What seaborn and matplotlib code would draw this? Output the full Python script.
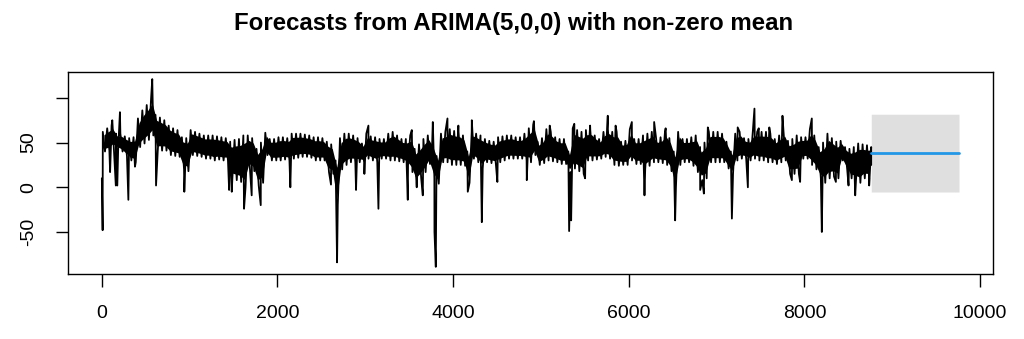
import matplotlib
matplotlib.use("Agg")
import matplotlib.pyplot as plt
import seaborn as sns
import numpy as np
import pandas as pd

# envelope of the observed series, read per 50-step bin (upper / lower edge of the band)
bin_hi = [62, 66, 69, 60, 60, 57, 55, 56, 77, 86, 92, 100, 81, 78, 75, 69, 66, 64, 56, 55,
          64, 62, 60, 58, 58, 58, 57, 56, 55, 51, 53, 54, 58, 58, 55, 43, 50, 61, 54, 54,
          56, 56, 55, 60, 60, 60, 59, 58, 56, 56, 55, 51, 48, 30, 55, 60, 60, 58, 55, 49,
          60, 57, 56, 54, 54, 60, 62, 58, 54, 54, 58, 43, 48, 54, 58, 50, 35, 60, 62, 65,
          63, 62, 58, 40, 62, 60, 58, 54, 52, 51, 56, 57, 58, 58, 56, 56, 60, 66, 70, 51,
          55, 65, 62, 56, 54, 54, 40, 66, 64, 62, 64, 64, 58, 54, 62, 65, 62, 62, 51, 52,
          65, 54, 54, 58, 60, 62, 54, 56, 62, 55, 40, 62, 54, 54, 56, 58, 45, 50, 62, 62,
          62, 60, 51, 40, 60, 62, 55, 54, 62, 62, 62, 62, 60, 54, 58, 62, 52, 54, 58, 56,
          56, 65, 58, 45, 50, 60, 55, 51, 52, 45, 43, 45, 49, 48, 47, 45]
bin_lo = [40, 41, 45, 43, 40, 35, 30, 28, 45, 49, 53, 58, 40, 41, 41, 36, 35, 34, 20, 18,
          36, 35, 34, 32, 32, 30, 31, 30, 30, 10, 8, 6, 0, 21, 18, 2, 5, 36, 30, 30,
          30, 31, 30, 32, 33, 34, 34, 33, 30, 30, 30, 17, 15, -20, 20, 25, 28, 28, 28, 28,
          32, 30, 28, 32, 32, 30, 30, 29, 28, 25, 17, 5, 10, 17, 26, 10, 4, 28, 28, 25,
          25, 25, 24, 5, 32, 28, 21, 28, 27, 26, 28, 30, 32, 32, 32, 32, 30, 28, 36, 25,
          27, 30, 29, 28, 26, 26, 17, 21, 18, 15, 30, 30, 31, 32, 34, 32, 25, 24, 25, 25,
          30, 26, 26, 20, 24, 28, 28, 27, 25, 18, 0, 25, 28, 28, 24, 17, 8, 10, 28, 28,
          28, 28, 21, 15, 30, 32, 32, 30, 32, 30, 30, 28, 28, 26, 28, 30, 15, 15, 15, 32,
          32, 25, 20, 10, 5, 10, 12, 10, 30, 20, 10, 8, 5, 10, 10, 25]

# isolated spikes (time index, value)
spike_t = [1, 10, 95, 120, 160, 177, 207, 303, 378, 575, 618, 940, 1450, 1480, 1620, 1707,
           1810, 2147, 2610, 2679, 2895, 2990, 3036, 3150, 3484, 3530, 3586, 3655, 3769,
           3788, 3803, 3936, 4060, 4167, 4213, 4327, 4504, 4839, 4920, 5100, 5321, 5344,
           5380, 5503, 5560, 5761, 5850, 6035, 6179, 6289, 6420, 6528, 6813, 6855, 6900,
           7174, 7240, 7356, 7431, 7480, 7600, 7750, 7857, 7951, 8084, 8198, 8358, 8502,
           8578, 8737]
spike_v = [10, -48, 17, 75, 2, 2, 84, -14, 23, 121, 2, -5, -3, -5, -24, -9,
           -20, 0, 3, -84, -3, 15, 69, -24, -14, 64, 0, -9, 73,
           -50, -89, 77, 69, -5, 75, -39, 6, 8, 74, 69, -49, -37,
           71, 10, 69, 80, 69, 73, -9, 73, 66, -37, -3, -7, 67,
           -35, 67, 0, 88, 66, 67, 80, 8, 6, 77, -50, 6, 2,
           -9, 2]

n_obs = 8760
horizon = 1000
fc_mean = 38.0
fc_lower = -5.3
fc_upper = 81.7

# build the observed series
t_vals, y_vals = [], []
for i, (hi, lo) in enumerate(zip(bin_hi, bin_lo)):
    t_vals += [min(50 * i + 12, n_obs), min(50 * i + 37, n_obs)]
    y_vals += [hi, lo]
t_vals += spike_t
y_vals += spike_v
obs = pd.DataFrame({"t": t_vals, "y": y_vals}).sort_values("t", kind="stable")

# solid inner core of the band; the zigzag line provides the ragged edges
band = pd.DataFrame({"t": [min(50 * i + 25, n_obs) for i in range(len(bin_hi))],
                     "hi": bin_hi, "lo": bin_lo})
width = band["hi"] - band["lo"]
band["core_hi"] = band["hi"] - 0.15 * width
band["core_lo"] = band["lo"] + 0.15 * width

fc = pd.DataFrame({"t": np.arange(n_obs + 1, n_obs + horizon + 1)})
fc["mean"] = fc_mean
fc["lower"] = fc_lower
fc["upper"] = fc_upper

sns.set_style("white")
plt.rcParams["font.family"] = ["Liberation Sans", "DejaVu Sans"]
plt.rcParams["text.color"] = "black"
plt.rcParams["xtick.color"] = "black"
plt.rcParams["ytick.color"] = "black"

fig = plt.figure(figsize=(10.24, 3.39), dpi=100)
ax = fig.add_axes([0.066, 0.191, 0.904, 0.5975])

ax.fill_between(fc["t"], fc["lower"], fc["upper"], color="#DFDFDF", lw=0)
ax.fill_between(band["t"], band["core_lo"], band["core_hi"], color="black", lw=0)
sns.lineplot(data=obs, x="t", y="y", ax=ax, color="black", lw=1.3,
             estimator=None, sort=False)
sns.lineplot(data=fc, x="t", y="mean", ax=ax, color="#2297E6", lw=2,
             estimator=None)

ax.set_xlim(-389, 10150)
ax.set_ylim(-97.3, 129.3)
ax.set_xticks(range(0, 10001, 2000))
ax.set_xticklabels([str(v) for v in range(0, 10001, 2000)])
ax.set_yticks([-50, 0, 50, 100])
ax.set_yticklabels(["-50", "0", "50", ""], rotation=90, va="center")
ax.set_xlabel("")
ax.set_ylabel("")
ax.tick_params(axis="both", direction="out", length=9, width=1, color="black",
               labelcolor="black", labelsize=14, pad=13, left=True, bottom=True)
for s in ax.spines.values():
    s.set_visible(True)
    s.set_color("black")
    s.set_linewidth(1)

fig.text(0.502, 0.93, "Forecasts from ARIMA(5,0,0) with non-zero mean",
         ha="center", va="center", fontsize=17.3, fontweight="bold", color="black")

fig.savefig("out.png", dpi=100)
